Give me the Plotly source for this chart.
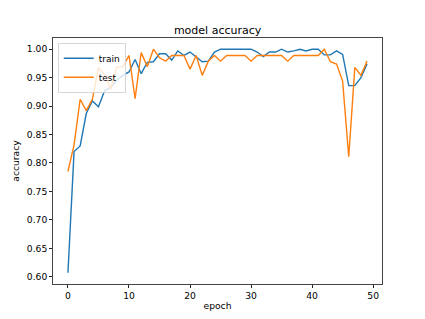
import plotly.graph_objects as go

epochs = list(range(50))
train_acc = [0.607, 0.820, 0.830, 0.887, 0.909, 0.899, 0.927, 0.933, 0.946, 0.954,
             0.960, 0.982, 0.957, 0.977, 0.978, 0.992, 0.992, 0.981, 0.997, 0.989,
             0.995, 0.987, 0.978, 0.979, 0.995, 1.000, 1.000, 1.000, 1.000, 1.000,
             1.000, 0.995, 0.987, 0.995, 0.995, 1.000, 0.995, 0.997, 1.000, 0.997,
             1.000, 1.000, 0.990, 0.990, 0.997, 0.991, 0.936, 0.936, 0.950, 0.974]
test_acc = [0.785, 0.832, 0.912, 0.892, 0.912, 0.968, 0.955, 0.930, 0.969, 0.969,
            0.989, 0.913, 0.994, 0.969, 1.000, 0.985, 0.979, 0.989, 0.989, 0.989,
            0.965, 0.989, 0.954, 0.979, 0.989, 0.979, 0.989, 0.989, 0.989, 0.989,
            0.979, 0.989, 0.989, 0.989, 0.989, 0.989, 0.979, 0.989, 0.989, 0.989,
            0.989, 0.989, 1.000, 0.978, 0.974, 0.944, 0.811, 0.968, 0.954, 0.979]
x_ticks = [0, 10, 20, 30, 40, 50]
y_ticks = [0.60, 0.65, 0.70, 0.75, 0.80, 0.85, 0.90, 0.95, 1.00]

FONT = "DejaVu Sans"

fig = go.Figure()
fig.add_trace(go.Scatter(x=epochs, y=train_acc, mode="lines", name="train",
                         line=dict(color="#1f77b4", width=1.4)))
fig.add_trace(go.Scatter(x=epochs, y=test_acc, mode="lines", name="test",
                         line=dict(color="#ff7f0e", width=1.4)))

axis_common = dict(showgrid=False, zeroline=False, showline=True, mirror=True,
                   linecolor="#444", linewidth=0.8, ticks="outside", ticklen=3,
                   tickwidth=0.8, tickcolor="#222", automargin=False,
                   tickfont=dict(family=FONT, size=9.2, color="black"))

fig.update_layout(
    width=425, height=319,
    margin=dict(l=53, r=43, t=38, b=35, autoexpand=False),
    paper_bgcolor="white", plot_bgcolor="white",
    title=dict(text="model accuracy", x=0.512, xanchor="center", y=0.906, yanchor="middle",
               font=dict(family=FONT, size=11, color="black")),
    xaxis=dict(range=[-2.45, 51.45], tickvals=x_ticks,
               title=dict(text="epoch", standoff=2, font=dict(family=FONT, size=9.2, color="black")),
               **axis_common),
    yaxis=dict(range=[0.5873, 1.0197], tickvals=y_ticks, tickformat=".2f",
               title=dict(text="accuracy", standoff=5, font=dict(family=FONT, size=9.2, color="black")),
               **axis_common),
    legend=dict(x=0.015, y=0.98, xanchor="left", yanchor="top",
                bgcolor="rgba(255,255,255,0.8)", bordercolor="#cccccc", borderwidth=0.8,
                font=dict(family=FONT, size=9, color="black"),
                itemwidth=30, tracegroupgap=0),
    showlegend=True,
)

fig.write_html("out.html", config={"displayModeBar": False},
               post_script="document.body.style.margin='0';")
